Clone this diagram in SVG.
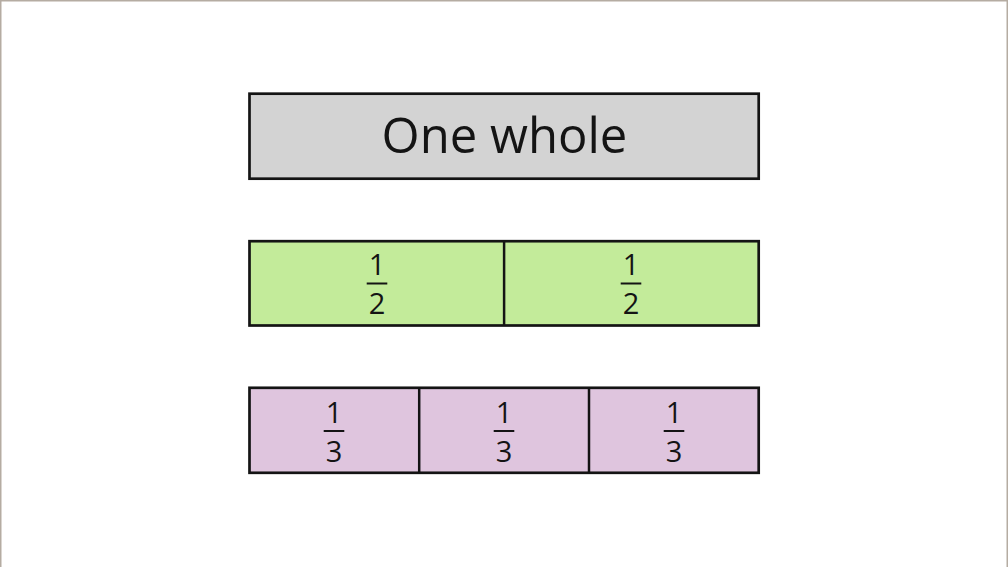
<svg xmlns="http://www.w3.org/2000/svg" width="1008" height="567" viewBox="0 0 1008 567">
  <style>
    .box { stroke: #141414; stroke-width: 2.7; }
    .div { stroke: #141414; stroke-width: 2.5; }
    .num { font-family: "Open Sans", "Noto Sans", sans-serif; font-size: 29px; font-weight: 500; fill: #141414; text-anchor: middle; }
    .bar { stroke: #141414; stroke-width: 2; }
  </style>
  <rect x="0" y="0" width="1008" height="567" fill="#ffffff"/>
  <rect x="0.75" y="0.75" width="1006.5" height="580" fill="none" stroke="#b5aca2" stroke-width="1.5"/>
  <g id="whole">
    <rect class="box" x="249.5" y="93.7" width="509.2" height="85" fill="#d3d3d3"/>
    <text x="504.5" y="153" font-family="Open Sans, Noto Sans, sans-serif" font-size="49" font-weight="500" fill="#141414" text-anchor="middle">One whole</text>
  </g>
  <g id="halves">
    <rect class="box" x="249.5" y="241.2" width="509.2" height="84.3" fill="#c3eb9a"/>
    <line class="div" x1="504.1" y1="241.2" x2="504.1" y2="325.5"/>
    <g id="half1">
      <text class="num" x="377" y="274.5">1</text>
      <line class="bar" x1="366.7" y1="283.5" x2="387.3" y2="283.5"/>
      <text class="num" x="377" y="313.5">2</text>
    </g>
    <g id="half2">
      <text class="num" x="631" y="274.5">1</text>
      <line class="bar" x1="620.7" y1="283.5" x2="641.3" y2="283.5"/>
      <text class="num" x="631" y="313.5">2</text>
    </g>
  </g>
  <g id="thirds">
    <rect class="box" x="249.5" y="387.8" width="509.2" height="85" fill="#dfc5de"/>
    <line class="div" x1="419.2" y1="387.8" x2="419.2" y2="472.8"/>
    <line class="div" x1="589" y1="387.8" x2="589" y2="472.8"/>
    <g id="third1">
      <text class="num" x="334" y="423.2">1</text>
      <line class="bar" x1="323.7" y1="431" x2="344.3" y2="431"/>
      <text class="num" x="334" y="461.7">3</text>
    </g>
    <g id="third2">
      <text class="num" x="504" y="423.2">1</text>
      <line class="bar" x1="493.7" y1="431" x2="514.3" y2="431"/>
      <text class="num" x="504" y="461.7">3</text>
    </g>
    <g id="third3">
      <text class="num" x="674" y="423.2">1</text>
      <line class="bar" x1="663.7" y1="431" x2="684.3" y2="431"/>
      <text class="num" x="674" y="461.7">3</text>
    </g>
  </g>
  <g id="connectors"/>
</svg>
